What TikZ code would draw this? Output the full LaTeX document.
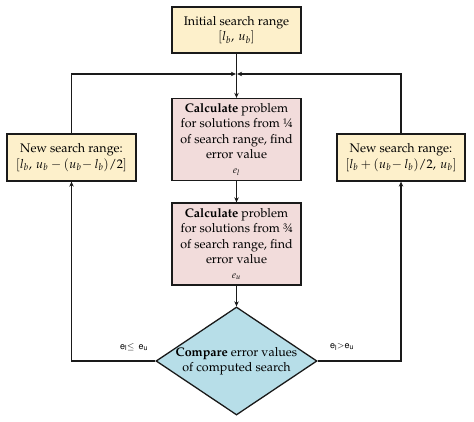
\documentclass[tikz,border=0pt]{standalone}
\usepackage[T1]{fontenc}
\usepackage{mathpazo}
\usetikzlibrary{shapes.geometric,arrows.meta}
\definecolor{boxyellow}{HTML}{FDF0CB}
\definecolor{boxpink}{HTML}{F2DCDB}
\definecolor{boxblue}{HTML}{B7DEE8}
\definecolor{edgecol}{HTML}{1A1A1A}
\tikzset{
  base/.style={draw=edgecol, line width=1.3pt, align=center, inner sep=2pt,
    font=\fontsize{12.5}{15.5}\selectfont},
  rangebox/.style={base, fill=boxyellow, minimum width=129pt, minimum height=47pt},
  calcbox/.style={base, fill=boxpink, minimum width=129pt, minimum height=82pt},
  decision/.style={diamond, draw=edgecol, line width=1.3pt, fill=boxblue, inner sep=0pt,
    minimum width=161pt, minimum height=108pt},
  flow/.style={draw=edgecol, line width=1.1pt, -{Stealth[length=5pt,width=4.5pt]}},
  condlabel/.style={font=\fontfamily{phv}\fontsize{9}{11}\selectfont, inner sep=1pt}
}
\begin{document}
\begin{tikzpicture}[x=1pt,y=-1pt]
\useasboundingbox (0,0) rectangle (474,422);
\node[rangebox, minimum height=46pt] (init) at (236.5,30) {Initial search range\\\itshape $[l_b,\, u_b]$};
\node[calcbox] (calc1) at (236.5,139.5) {\textbf{Calculate} problem\\for solutions from \textonequarter\\of search range, find\\error value\\[-1pt]{\fontsize{10}{12}\selectfont $e_l$}};
\node[calcbox] (calc2) at (236.5,244) {\textbf{Calculate} problem\\for solutions from \textthreequarters\\of search range, find\\error value\\[-1pt]{\fontsize{10}{12}\selectfont $e_u$}};
\node[rangebox] (left) at (71.5,157.5) {New search range:\\$[l_b,\, u_b - (u_b\!- l_b)/2]$};
\node[rangebox, minimum width=128pt] (right) at (401,157.5) {New search range:\\$[l_b + (u_b\!- l_b)/2,\, u_b]$};
\node[decision] (cmp) at (236.5,361) {};
\node[font=\fontsize{12.5}{15.5}\selectfont, align=center, inner sep=0pt] (cmptxt) at (cmp.center) {\textbf{Compare} error values\\of computed search};
\coordinate (junc) at (236.5,74);
\coordinate (lt) at (left.north |- junc);
\coordinate (rt) at (right.north |- junc);
\coordinate (lb) at (left.south |- cmp.west);
\coordinate (rb) at (right.south |- cmp.east);
\draw[flow] (init.south) -- (calc1.north);
\draw[flow, shorten >=0.6pt] (left.north) -- (lt) -- (junc);
\draw[flow, shorten >=0.6pt] (right.north) -- (rt) -- (junc);
\draw[flow] (calc1.south) -- (calc2.north);
\draw[flow] (calc2.south) -- (cmp.north);
\draw[flow] (cmp.west) -- (lb) -- (left.south);
\draw[flow] (cmp.east) -- (rb) -- (right.south);
\node[condlabel] (lcond) at (134,347) {e\textsubscript{l}$\leq$\, e\textsubscript{u}};
\node[condlabel] (rcond) at (342,347) {e\textsubscript{l}$>$e\textsubscript{u}};
\end{tikzpicture}
\end{document}
